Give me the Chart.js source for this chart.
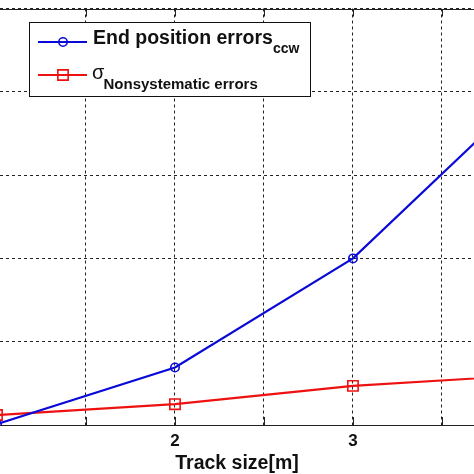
<!DOCTYPE html>
<html><head><meta charset="utf-8">
<script src="https://cdn.jsdelivr.net/npm/chart.js@4"></script>
<style>html,body{margin:0;padding:0;background:#fff;overflow:hidden}canvas{display:block}</style>
</head><body>
<canvas id="c" width="474" height="474"></canvas>
<script>
// ---- data ----
const trackSizes = [1, 2, 3, 4];
const endPositionErrorsCcw = [0.1, 6.9, 20.0, 40.3];
const sigmaNonsystematicErrors = [1.2, 2.5, 4.7, 6.0];
const xTickValues = [1, 1.5, 2, 2.5, 3, 3.5, 4];
const xTickLabels = ['1', '', '2', '', '3', '', '4'];
const yTickValues = [0, 10, 20, 30, 40, 50];
const xTitle = 'Track size[m]';
const legendMain = ['End position errors', 'σ'];
const legendSub = ['ccw', 'Nonsystematic errors'];

const FONT = "'Liberation Sans', Arial, sans-serif";
const BLUE = '#0a0ad8';
const RED = '#ee1111';

const framePlugin = {
  id: 'frame',
  beforeDatasetsDraw(chart) {
    const ctx = chart.ctx, a = chart.chartArea, xs = chart.scales.x;
    ctx.save();
    ctx.strokeStyle = '#222';
    ctx.lineWidth = 1;
    ctx.beginPath();
    const ty = Math.round(a.top) + 0.5;
    ctx.moveTo(a.left, ty); ctx.lineTo(a.right, ty);
    xs.ticks.forEach(t => {
      const px = Math.round(xs.getPixelForValue(t.value)) + 0.5;
      ctx.moveTo(px, ty); ctx.lineTo(px, ty + 7);
      ctx.moveTo(px, a.bottom); ctx.lineTo(px, a.bottom - 8);
    });
    ctx.stroke();
    ctx.restore();
  }
};

const legendPlugin = {
  id: 'matlabLegend',
  afterDatasetsDraw(chart) {
    const ctx = chart.ctx;
    ctx.save();
    ctx.fillStyle = '#fff';
    ctx.fillRect(29.5, 22.5, 281, 74);
    ctx.strokeStyle = '#111';
    ctx.lineWidth = 1;
    ctx.strokeRect(29.5, 22.5, 281, 74);
    const rows = [42, 75];
    chart.data.datasets.forEach((ds, i) => {
      const y = rows[i];
      ctx.strokeStyle = ds.borderColor;
      ctx.lineWidth = ds.borderWidth;
      ctx.beginPath(); ctx.moveTo(38, y); ctx.lineTo(87, y); ctx.stroke();
      ctx.lineWidth = ds.pointBorderWidth;
      ctx.beginPath();
      if (ds.pointStyle === 'rect') {
        const h = ds.pointRadius * Math.SQRT1_2;
        ctx.rect(63 - h, y - h, 2 * h, 2 * h);
      } else {
        ctx.arc(63, y, ds.pointRadius, 0, Math.PI * 2);
      }
      ctx.stroke();
    });
    ctx.fillStyle = '#111';
    ctx.textBaseline = 'alphabetic';
    ctx.textAlign = 'left';
    ctx.font = 'bold 19.5px ' + FONT;
    ctx.fillText(legendMain[0], 93, 44);
    ctx.font = 'bold 14px ' + FONT;
    ctx.fillText(legendSub[0], 273, 53);
    ctx.font = '20px ' + FONT;
    ctx.fillText(legendMain[1], 92, 79);
    ctx.font = 'bold 15px ' + FONT;
    ctx.fillText(legendSub[1], 103.5, 89);
    ctx.restore();
  }
};

new Chart(document.getElementById('c'), {
  type: 'line',
  data: {
    datasets: [
      {
        label: legendMain[0] + legendSub[0],
        data: trackSizes.map((x, i) => ({x, y: endPositionErrorsCcw[i]})),
        borderColor: BLUE, borderWidth: 2.2,
        pointStyle: 'circle', pointRadius: 4.2, pointBorderWidth: 1.6,
        pointBorderColor: BLUE, pointBackgroundColor: 'rgba(0,0,0,0)',
        tension: 0, fill: false
      },
      {
        label: legendMain[1] + legendSub[1],
        data: trackSizes.map((x, i) => ({x, y: sigmaNonsystematicErrors[i]})),
        borderColor: RED, borderWidth: 2.2,
        pointStyle: 'rect', pointRadius: 7.3, pointBorderWidth: 1.6,
        pointBorderColor: RED, pointBackgroundColor: 'rgba(0,0,0,0)',
        tension: 0, fill: false
      }
    ]
  },
  options: {
    responsive: false,
    animation: false,
    devicePixelRatio: 1,
    layout: { autoPadding: false, padding: { top: 8.5, left: 0, right: 0, bottom: 0 } },
    plugins: { legend: { display: false }, tooltip: { enabled: false } },
    scales: {
      x: {
        type: 'linear', position: 'bottom',
        min: 1.0169, max: 3.680,
        afterBuildTicks: s => { s.ticks = xTickValues.filter(v => v >= s.min && v <= s.max).map(v => ({value: v})); },
        afterFit: s => { s.height = 49; s.paddingLeft = 0; s.paddingRight = 0; },
        grid: { color: '#222', lineWidth: 1, drawTicks: false },
        border: { display: true, color: '#222', width: 1, dash: [3, 3] },
        ticks: {
          padding: 6.5, color: '#111', maxRotation: 0, autoSkip: false,
          font: { family: FONT, size: 17, weight: 'bold' },
          callback: v => { const k = xTickValues.indexOf(v); return k >= 0 ? xTickLabels[k] : ''; }
        },
        title: {
          display: true, text: xTitle, color: '#111', padding: 0,
          font: { family: FONT, size: 19.5, weight: 'bold', lineHeight: 1.05 }
        }
      },
      y: {
        type: 'linear', min: 0, max: 50,
        afterBuildTicks: s => { s.ticks = yTickValues.map(v => ({value: v})); },
        afterFit: s => { s.width = 0; s.paddingTop = 0; s.paddingBottom = 0; },
        grid: { color: '#222', lineWidth: 1, drawTicks: false },
        border: { display: false, dash: [3, 3] },
        ticks: { display: false }
      }
    }
  },
  plugins: [framePlugin, legendPlugin]
});
</script>
</body></html>
